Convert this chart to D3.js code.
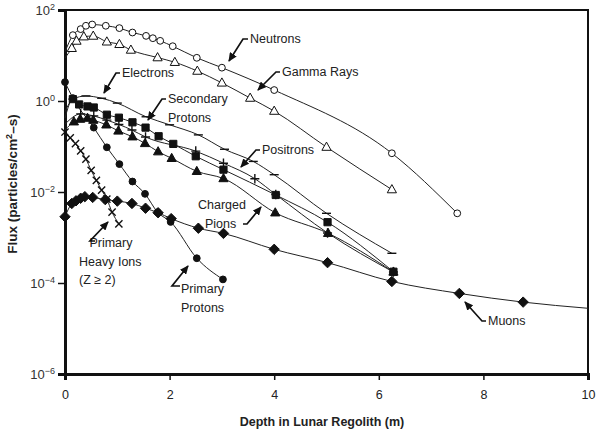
<!DOCTYPE html>
<html>
<head>
<meta charset="utf-8">
<script src="https://cdn.jsdelivr.net/npm/d3@7"></script>
<style>
body { margin: 0; background: #fff; }
text { font-family: Arial, "Liberation Sans", sans-serif; fill: #222; }
</style>
</head>
<body>
<div id="wrapper"></div>
<script>
// [depth (m), flux (particles/cm2-s)]
const neutrons = [[0,12],[0.15,28],[0.3,38],[0.4,45],[0.52,48],[0.78,45],[1.04,40],[1.29,32],[1.55,27],[1.68,24],[1.82,21],[2.06,16],[2.52,8.9],[3.0,5.4],[4.0,1.74],[6.25,0.071],[7.5,0.0034]]
const gammaRays = [[0,8.8],[0.13,14.4],[0.22,20.8],[0.36,25.9],[0.54,26.8],[0.8,20],[1.04,17.6],[1.26,13.2],[1.77,9.0],[2.1,7.1],[2.53,4.55],[3.0,2.5],[3.54,1.16],[4.0,0.6],[5.0,0.097],[6.25,0.0113]]
const electrons = [[0,0.58],[0.15,1.1],[0.4,1.29],[0.7,1.15],[1.0,0.9],[1.55,0.45],[2.0,0.30],[2.55,0.18],[3.05,0.087],[3.6,0.047],[4.0,0.024],[5.0,0.0034],[6.25,0.00045]]
const secProtons = [[0,0.42],[0.15,1.1],[0.27,0.84],[0.43,0.76],[0.55,0.72],[0.8,0.5],[1.03,0.43],[1.29,0.34],[1.54,0.26],[1.79,0.168],[2.07,0.114],[2.5,0.061],[3.03,0.031],[4.03,0.0086],[5.02,0.00217],[6.28,0.000177]]
const positrons = [[0,0.31],[0.3,0.52],[0.55,0.47],[0.8,0.38],[1.03,0.305],[1.28,0.23],[1.54,0.162],[2.5,0.079],[3.03,0.043],[3.63,0.0196],[4.03,0.0088],[5.02,0.00126],[6.28,0.000174]]
const pions = [[0,0.23],[0.17,0.35],[0.29,0.40],[0.43,0.42],[0.54,0.38],[0.79,0.30],[1.02,0.22],[1.29,0.164],[1.53,0.117],[1.78,0.077],[2.04,0.055],[2.52,0.0285],[3.03,0.0198],[4.02,0.0035],[5.03,0.00124],[6.28,0.000175]]
const priProtons = [[0,2.6],[0.15,1.16],[0.55,0.26],[0.8,0.096],[1.04,0.041],[1.29,0.017],[1.53,0.0091],[1.77,0.0036],[2.02,0.0022],[2.52,0.00035],[3.02,0.00012]]
const heavyIons = [[0,0.208],[0.1,0.154],[0.2,0.116],[0.3,0.080],[0.4,0.053],[0.5,0.030],[0.6,0.018],[0.7,0.011],[0.8,0.0070],[0.9,0.0036],[1.03,0.0020]]
const muons = [[0,0.00286],[0.13,0.0056],[0.21,0.0064],[0.3,0.0073],[0.38,0.0079],[0.53,0.0076],[0.77,0.0068],[1.0,0.0063],[1.28,0.0056],[1.54,0.0044],[1.78,0.0035],[2.03,0.0026],[2.55,0.0016],[3.03,0.00123],[4.0,0.00055],[5.02,0.00028],[6.25,0.000108],[7.54,0.000059],[8.76,0.000038],[10,0.0000278]]

const xTicks = [0, 2, 4, 6, 8, 10]
const yTicks = [2, 0, -2, -4, -6]

const series = [
    {data: neutrons, shape: "circle", fill: "#fff", zeroMark: false},
    {data: gammaRays, shape: "triangle", fill: "#fff", zeroMark: false},
    {data: electrons, shape: "dash", fill: "none", zeroMark: false},
    {data: secProtons, shape: "square", fill: "#111", zeroMark: false},
    {data: positrons, shape: "plus", fill: "none", zeroMark: false},
    {data: pions, shape: "triangle", fill: "#111", zeroMark: false},
    {data: priProtons, shape: "circle", fill: "#111", zeroMark: true},
    {data: heavyIons, shape: "times", fill: "none", zeroMark: true},
    {data: muons, shape: "diamond", fill: "#111", zeroMark: true}
]

const labels = [
    {lines: ["Neutrons"], x: 250, y: 43, arrow: [[248,39],[243,39],[229,61]]},
    {lines: ["Gamma Rays"], x: 282, y: 76, arrow: [[280,72],[276,72],[258,90]]},
    {lines: ["Electrons"], x: 122, y: 77, arrow: [[120,73],[116,73],[104,93]]},
    {lines: ["Secondary", "Protons"], x: 168, y: 103, arrow: [[166,99],[162,99],[148,120]]},
    {lines: ["Positrons"], x: 262, y: 154, arrow: [[260,150],[256,150],[241,167]]},
    {lines: ["Charged", "  Pions"], x: 198, y: 209, arrow: [[243,224],[247,224],[261,207]]},
    {lines: ["   Primary", "Heavy Ions", "(Z \u2265 2)"], x: 79, y: 247, arrow: [[95,241],[90,241],[108,222]]},
    {lines: ["Primary", "Protons"], x: 181, y: 293, arrow: [[180,286],[172,286],[188,266]]},
    {lines: ["Muons"], x: 488, y: 325, arrow: [[486,321],[482,321],[465,302]]}
]

const shapes = {
    circle: "M3.4,0A3.4,3.4,0,1,1,-3.4,0A3.4,3.4,0,1,1,3.4,0Z",
    triangle: "M0,-5L4.6,3.2L-4.6,3.2Z",
    square: "M-3.6,-3.6H3.6V3.6H-3.6Z",
    diamond: "M0,-5.2L5.2,0L0,5.2L-5.2,0Z",
    times: "M-3.6,-3.6L3.6,3.6M-3.6,3.6L3.6,-3.6",
    plus: "M-4.5,0H4.5M0,-4.8V4.8",
    dash: "M-4.5,0H4.5"
}

function drawchart() {
    const width = 598
    const height = 432
    const left = 65, right = 588, top = 10, bottom = 374

    const parent = d3.select("#wrapper")
    parent.selectAll("*").remove()
    const svg = parent.append("svg")
        .attr("width", width)
        .attr("height", height)

    svg.append("defs").append("marker")
        .attr("id", "head")
        .attr("markerUnits", "userSpaceOnUse")
        .attr("markerWidth", 10)
        .attr("markerHeight", 8)
        .attr("refX", 8)
        .attr("refY", 4)
        .attr("orient", "auto")
        .append("path")
        .attr("d", "M0,0L9,4L0,8Z")
        .attr("fill", "#111")

    const x = d3.scaleLinear().domain([0, 10]).range([left, right])
    const y = d3.scaleLog().domain([1e-6, 1e2]).range([bottom, top])

    // frame
    svg.append("rect")
        .attr("x", left).attr("y", top)
        .attr("width", right - left).attr("height", bottom - top)
        .attr("fill", "none").attr("stroke", "#111").attr("stroke-width", 2)

    const xAxis = d3.axisBottom(x).tickValues(xTicks).tickSize(6).tickPadding(10).tickFormat(d3.format("d"))
    const gx = svg.append("g").attr("transform", "translate(0," + bottom + ")").call(xAxis)
    gx.select(".domain").attr("stroke", "#111").attr("stroke-width", 3)
    gx.selectAll(".tick line").attr("stroke", "#111").attr("stroke-width", 1.5)
    gx.selectAll(".tick text").attr("font-size", 12.5).attr("fill", "#333")
        .style("font-family", "Arial, 'Liberation Sans', sans-serif")

    const yAxis = d3.axisLeft(y).tickValues(yTicks.map(e => Math.pow(10, e))).tickSize(7).tickFormat("")
    const gy = svg.append("g").attr("transform", "translate(" + left + ",0)").call(yAxis)
    gy.select(".domain").attr("stroke", "#111").attr("stroke-width", 3)
    gy.selectAll(".tick line").attr("stroke", "#111").attr("stroke-width", 1.5)

    const ylab = svg.append("g").selectAll("text").data(yTicks).enter().append("text")
        .attr("x", 55)
        .attr("y", d => y(Math.pow(10, d)) + 5)
        .attr("text-anchor", "end")
        .attr("font-size", 13)
        .style("fill", "#333")
    ylab.append("tspan").text("10")
    ylab.append("tspan").attr("dy", -5.5).attr("font-size", 9)
        .text(d => d < 0 ? "\u2212" + (-d) : String(d))

    const line = d3.line()
        .x(d => x(d[0]))
        .y(d => y(d[1]))
        .curve(d3.curveMonotoneX)

    const plot = svg.append("g")
    series.forEach(function(s) {
        plot.append("path")
            .attr("d", line(s.data))
            .attr("fill", "none")
            .attr("stroke", "#222")
            .attr("stroke-width", 1)
    })
    series.forEach(function(s) {
        const pts = s.data.filter(d => (d[0] > 0 || s.zeroMark) && d[0] < 10)
        plot.append("g").selectAll("path").data(pts).enter().append("path")
            .attr("transform", d => "translate(" + x(d[0]) + "," + y(d[1]) + ")")
            .attr("d", shapes[s.shape])
            .attr("fill", s.fill)
            .attr("stroke", "#111")
            .attr("stroke-width", s.shape == "dash" || s.shape == "plus" || s.shape == "times" ? 1.4 : 1)
    })

    // annotations
    const ann = svg.append("g")
    labels.forEach(function(l) {
        const t = ann.append("text")
            .attr("x", l.x)
            .attr("y", l.y)
            .attr("font-size", 12.5)
            .style("white-space", "pre")
        l.lines.forEach(function(s, i) {
            t.append("tspan").attr("x", l.x).attr("y", l.y + i * 18.5).text(s)
        })
        ann.append("path")
            .attr("d", d3.line()(l.arrow))
            .attr("fill", "none")
            .attr("stroke", "#111")
            .attr("stroke-width", 1.7)
            .attr("marker-end", "url(#head)")
    })

    svg.append("text")
        .attr("x", 322)
        .attr("y", 426)
        .attr("text-anchor", "middle")
        .attr("font-size", 12.5)
        .attr("font-weight", "bold")
        .text("Depth in Lunar Regolith (m)")

    const yt = svg.append("text")
        .attr("transform", "translate(17,184) rotate(-90)")
        .attr("text-anchor", "middle")
        .attr("font-size", 13.5)
        .attr("font-weight", "bold")
    yt.append("tspan").text("Flux (particles/cm")
    yt.append("tspan").attr("dy", -5.5).attr("font-size", 9).text("2")
    yt.append("tspan").attr("dy", 5.5).text("\u2013s)")
}
drawchart()
</script>
</body>
</html>
